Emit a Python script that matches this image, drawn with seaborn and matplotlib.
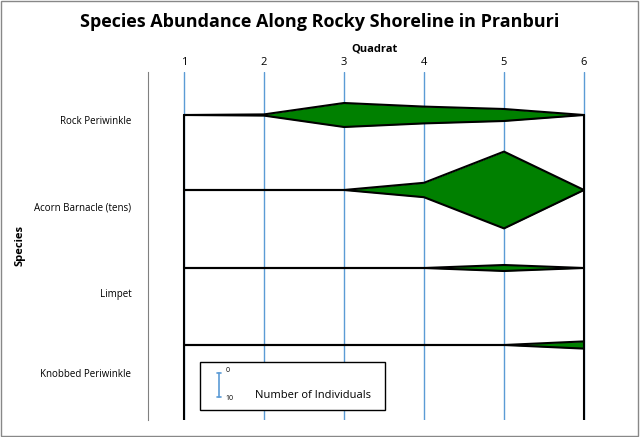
import matplotlib
matplotlib.use("Agg")
import matplotlib.pyplot as plt
import seaborn as sns
import numpy as np
import pandas as pd
from matplotlib.patches import Rectangle

quadrats = [1, 2, 3, 4, 5, 6]
species = ["Rock Periwinkle", "Acorn Barnacle (tens)", "Limpet", "Knobbed Periwinkle"]
rock_periwinkle = [0, 0.5, 10, 7, 5, 0]
acorn_barnacle = [0, 0, 0, 6, 32, 0]
limpet = [0, 0, 0, 0, 2.5, 0]
knobbed_periwinkle = [0, 0, 0, 0, 0, 3]
values = [rock_periwinkle, acorn_barnacle, limpet, knobbed_periwinkle]

sns.set_style("white")
plt.rcParams['font.family'] = ['Open Sans', 'DejaVu Sans']
plt.rcParams['text.color'] = 'black'
plt.rcParams['axes.labelcolor'] = 'black'
plt.rcParams['xtick.color'] = 'black'
plt.rcParams['ytick.color'] = 'black'

fig = plt.figure(figsize=(6.4, 4.37), dpi=100)
ax = fig.add_axes([148/640, 1-420/437, 452/640, (420-72)/437])
px = 2.4  # pixels per individual
ymax = (420-72)/px
def py(p):
    return (p-72)/px
baselines = [py(115), py(190), py(268), py(345)]
ax.set_ylim(ymax, 0)
ax.set_xlim(1 - 36/80, 1 + (600-184)/80)

for q in quadrats:
    ax.axvline(q, color="#5B9BD5", lw=1, zorder=1)

rows = []
for sp, vals, b in zip(species, values, baselines):
    for q, v in zip(quadrats, vals):
        rows.append({"species": sp, "q": q, "upper": b - v/2, "lower": b + v/2, "base": b})
df = pd.DataFrame(rows)
for sp in species:
    d = df[df.species == sp]
    ax.fill_between(d.q, d.upper, d.lower, color="#008000", zorder=3, lw=0)
    sns.lineplot(data=d, x="q", y="upper", color="black", lw=1.5, ax=ax, zorder=4)
    sns.lineplot(data=d, x="q", y="lower", color="black", lw=1.5, ax=ax, zorder=4)
ax.plot([1, 1], [baselines[0], ymax], color="black", lw=1.5, zorder=4)
ax.plot([6, 6], [baselines[0], ymax], color="black", lw=1.5, zorder=4)

ax.xaxis.tick_top()
ax.set_xticks(quadrats)
ax.set_xticklabels([str(q) for q in quadrats], fontsize=8)
ax.tick_params(axis="x", length=0, pad=3)
ax.set_xlabel("Quadrat", fontsize=8, fontweight="bold")
ax.xaxis.set_label_position("top")
ax.set_ylabel("Species", fontsize=8, fontweight="bold")
ax.yaxis.set_label_coords((25-148)/452, (420-245)/348)
ax.set_yticks([py(120), py(207), py(293), py(373)])
ax.set_yticklabels(species, fontsize=7)
ax.tick_params(axis="y", length=0, pad=12)
for s in ["top", "right", "bottom"]:
    ax.spines[s].set_visible(False)
ax.spines["left"].set_color("#808080")

# legend box
x0 = 1 + (200-184)/80
x1 = 1 + (385-184)/80
ax.add_patch(Rectangle((x0, py(410)), x1-x0, py(362)-py(410), facecolor="white",
                       edgecolor="black", lw=1, zorder=5))
lx = 1 + (219-184)/80
ax.plot([lx, lx], [py(373), py(397)], color="#5B9BD5", lw=1.2, zorder=6)
for yy in (373, 397):
    ax.plot([lx-0.03, lx+0.03], [py(yy), py(yy)], color="#5B9BD5", lw=1.2, zorder=6)
ax.text(lx+0.08, py(371), "0", fontsize=5, va="center", zorder=6)
ax.text(lx+0.08, py(398), "10", fontsize=5, va="center", zorder=6)
ax.text(1 + (255-184)/80, py(395), "Number of Individuals", fontsize=8, va="center", zorder=6)

fig.text(0.5, 1-22/437, "Species Abundance Along Rocky Shoreline in Pranburi",
         ha="center", va="center", fontsize=13, fontweight="bold")
fig.add_artist(Rectangle((0.002, 0.003), 0.995, 0.994, transform=fig.transFigure,
                         fill=False, edgecolor="#888888", lw=1))
fig.savefig("out.png", dpi=100)
